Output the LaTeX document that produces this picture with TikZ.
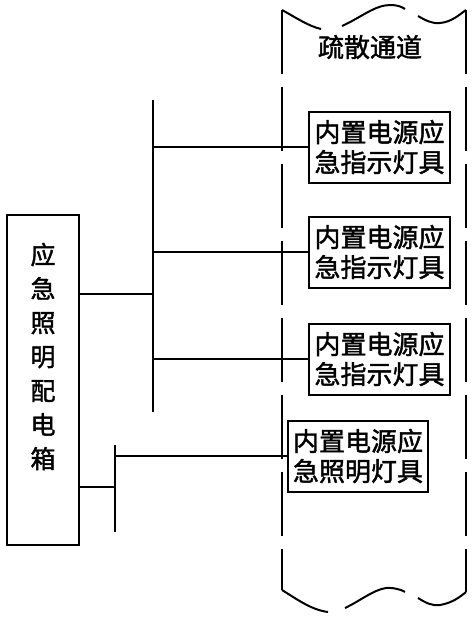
\documentclass[tikz,border=0pt]{standalone}
\usepackage{fontspec}
\newfontfamily\cjk[FakeBold=1.6]{Noto Sans CJK SC}
\tikzset{
  wire/.style={line width=2pt},
  lampbox/.style={draw, line width=2pt, minimum width=141pt, minimum height=71pt,
    inner sep=0pt, align=center, font=\cjk\fontsize{26}{30}\selectfont},
  corridor/.style={line width=2pt, dash pattern=on 64pt off 13pt},
  wave/.style={line width=2pt}
}
\begin{document}
\begin{tikzpicture}[x=1pt,y=-1pt]

\useasboundingbox (0,0) rectangle (474,619);

% evacuation corridor
\draw[corridor] (282,10) -- (282,590);
\draw[corridor] (466,10) -- (466,592);
\draw[wave] (282,10) .. controls (295,17) and (308,26) .. (321,29);
\draw[wave] (342,26) .. controls (360,18) and (375,5) .. (390,5)
  .. controls (398,5) and (402,7) .. (405,9);
\draw[wave] (418,16) .. controls (425,20) and (432,24) .. (440,23)
  .. controls (452,22) and (460,14) .. (466,10);
\draw[wave] (282,590) .. controls (298,600) and (312,610) .. (328,612);
\draw[wave] (345,608) .. controls (362,600) and (378,586) .. (392,588)
  .. controls (398,589) and (402,590) .. (405,592);
\draw[wave] (418,598) .. controls (426,603) and (432,606) .. (440,605)
  .. controls (452,603) and (460,597) .. (466,592);
\node[font=\cjk\fontsize{26}{30}\selectfont] (title) at (370,47) {疏散通道};

% distribution box
\node[draw, line width=2pt, minimum width=72pt, minimum height=330pt, inner sep=0pt]
  (panel) at (43,380) {};
\node[align=center, font=\cjk\fontsize{25}{34}\selectfont, yshift=23.5pt]
  (paneltext) at (panel.center) {应\\急\\照\\明\\配\\电\\箱};

% buses
\coordinate (busAtop) at (153,100);
\coordinate (busAbot) at (153,412);
\coordinate (busAtap) at (153,294);
\coordinate (busBtop) at (115,445);
\coordinate (busBbot) at (115,532);
\coordinate (busBtap) at (115,487);

\draw[wire] (busAtop) -- (busAbot);
\draw[wire] (busBtop) -- (busBbot);
\draw[wire] (panel.east |- busAtap) -- (busAtap);
\draw[wire] (panel.east |- busBtap) -- (busBtap);

% lamps
\foreach \y/\name in {147/lampA, 252/lampB, 359/lampC} {
  \node[lampbox] (\name) at (379.5,\y) {内置电源应\\急指示灯具};
  \draw[wire] (\name.west) -- (\name.west -| busAtop);
}

\node[lampbox, minimum width=140pt] (lampD) at (358,456) {内置电源应\\急照明灯具};
\draw[wire] (lampD.west) -- (lampD.west -| busBtop);

\end{tikzpicture}
\end{document}
